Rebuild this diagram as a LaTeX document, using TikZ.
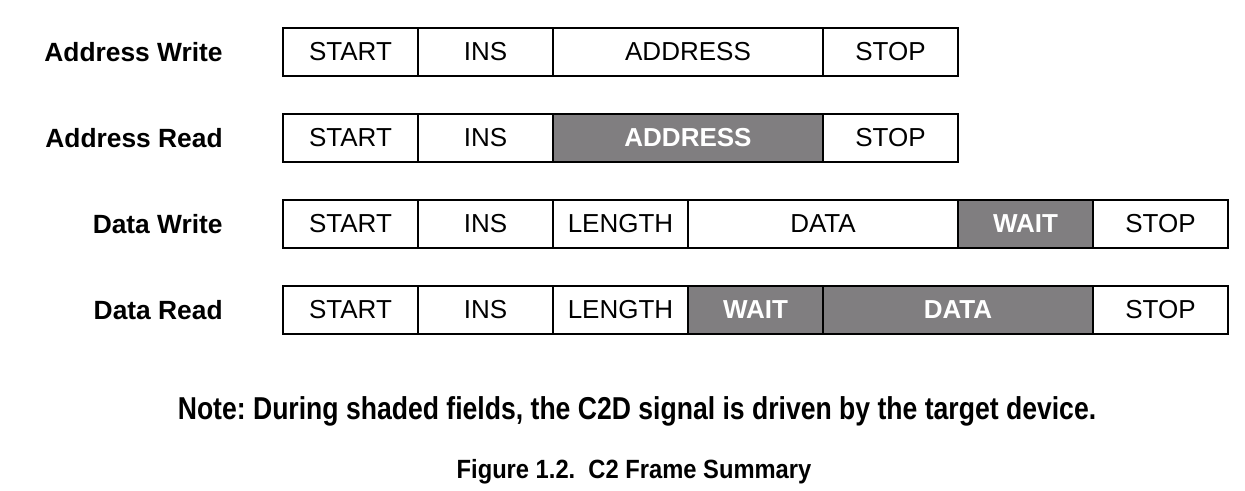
\documentclass[tikz,border=0pt]{standalone}
\usepackage{fontspec}
\setmainfont{Liberation Sans}
\newfontfamily\narrowfont[FakeStretch=0.84]{Liberation Sans}
\newfontfamily\captionfont[FakeStretch=0.9]{Liberation Sans}
\usepackage{xcolor}
\usepackage{tikz}
\usetikzlibrary{positioning}
\frenchspacing
\definecolor{shade}{RGB}{128,126,128}
\tikzstyle{field} = [rectangle, minimum width=2.7cm, minimum height=0.96cm, inner sep=0pt, outer sep=0pt, draw=black, line width=1.2pt, fill=white, font=\fontsize{14.8}{17}\selectfont]
\tikzstyle{wide} = [field, minimum width=5.4cm]
\tikzstyle{driven} = [fill=shade, text=white, font=\fontsize{14.8}{17}\selectfont\bfseries]
\tikzstyle{frame} = [anchor=east, inner sep=0pt, font=\fontsize{15}{18}\selectfont\bfseries]

\begin{document}
\begin{tikzpicture}
                \useasboundingbox (0,0) rectangle (24.9,-9.8);

% ---------------------------------------------
% Address Write
% ---------------------------------------------
                \node (aw_1) [field] at (7.01,-1.04) {START};
                \node (aw_2) [field, right=0pt of aw_1] {INS};
                \node (aw_3) [wide, right=0pt of aw_2] {ADDRESS};
                \node (aw_4) [field, right=0pt of aw_3] {STOP};
                \node (aw_l) [frame, left=1.2cm of aw_1] {Address Write};

% ---------------------------------------------
% Address Read
% ---------------------------------------------
                \node (ar_1) [field, below=0.76cm of aw_1] {START};
                \node (ar_2) [field, right=0pt of ar_1] {INS};
                \node (ar_3) [wide, driven, right=0pt of ar_2] {ADDRESS};
                \node (ar_4) [field, right=0pt of ar_3] {STOP};
                \node (ar_l) [frame, left=1.2cm of ar_1] {Address Read};

% ---------------------------------------------
% Data Write
% ---------------------------------------------
                \node (dw_1) [field, below=0.76cm of ar_1] {START};
                \node (dw_2) [field, right=0pt of dw_1] {INS};
                \node (dw_3) [field, right=0pt of dw_2] {LENGTH};
                \node (dw_4) [wide, right=0pt of dw_3] {DATA};
                \node (dw_5) [field, driven, right=0pt of dw_4] {WAIT};
                \node (dw_6) [field, right=0pt of dw_5] {STOP};
                \node (dw_l) [frame, left=1.2cm of dw_1] {Data Write};

% ---------------------------------------------
% Data Read
% ---------------------------------------------
                \node (dr_1) [field, below=0.76cm of dw_1] {START};
                \node (dr_2) [field, right=0pt of dr_1] {INS};
                \node (dr_3) [field, right=0pt of dr_2] {LENGTH};
                \node (dr_4) [field, driven, right=0pt of dr_3] {WAIT};
                \node (dr_5) [wide, driven, right=0pt of dr_4] {DATA};
                \node (dr_6) [field, right=0pt of dr_5] {STOP};
                \node (dr_l) [frame, left=1.2cm of dr_1] {Data Read};

% ---------------------------------------------
% Note and caption
% ---------------------------------------------
                \node (note) at (12.74,-8.22) {\narrowfont\fontsize{18}{21}\selectfont\bfseries Note: During shaded fields, the C2D signal is driven by the target device.};
                \node (caption) at (12.68,-9.44) {\captionfont\fontsize{15}{18}\selectfont\bfseries Figure 1.2.\ \ C2 Frame Summary};

            \end{tikzpicture}
\end{document}
